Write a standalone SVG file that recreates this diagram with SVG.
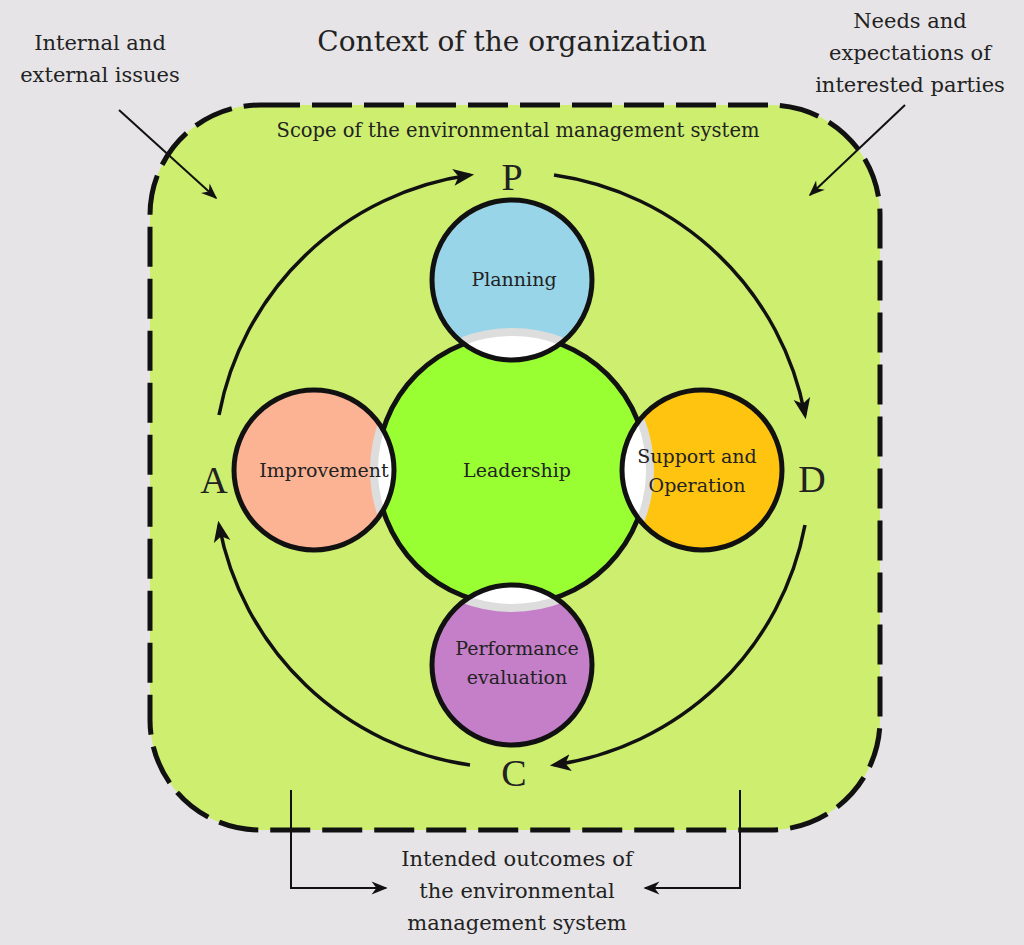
<svg xmlns="http://www.w3.org/2000/svg" width="1024" height="945" viewBox="0 0 1024 945">
<style>
text{font-family:"DejaVu Serif","Liberation Serif",serif;fill:#222;text-anchor:middle}
.lbl{font-size:21px}
.node{font-size:19px}
.big{font-family:"Liberation Serif",serif;font-size:38px}
.ring{fill:none;stroke:#111;stroke-width:5}
.ln{fill:none;stroke:#111;stroke-width:2}
.arc{fill:none;stroke:#111;stroke-width:3.5}
.ov{fill:#fff;stroke:#ddd;stroke-width:8}
</style>
<defs>
<marker id="ah" viewBox="0 0 10 10" refX="8" refY="5" markerWidth="6" markerHeight="6" orient="auto"><path d="M0,1L10,5L0,9L2.5,5z" fill="#111"/></marker>
<marker id="as" viewBox="0 0 10 10" refX="9" refY="5" markerWidth="10" markerHeight="8" orient="auto"><path d="M0,1L10,5L0,9L3,5z" fill="#111"/></marker>
<clipPath id="cP"><circle cx="512" cy="280" r="80"/></clipPath>
<clipPath id="cI"><circle cx="314" cy="470" r="80"/></clipPath>
<clipPath id="cS"><circle cx="702" cy="470" r="80"/></clipPath>
<clipPath id="cE"><circle cx="512" cy="665" r="80"/></clipPath>
</defs>
<rect width="1024" height="945" fill="#e6e4e6"/>
<g id="scope">
<rect x="150" y="105" width="730" height="725" rx="110" fill="#cdee6e" stroke="#111" stroke-width="5" stroke-dasharray="40 12"/>
<text x="518" y="137" style="font-size:19.5px">Scope of the environmental management system</text>
</g>
<text x="512" y="51" style="font-size:28px">Context of the organization</text>
<text class="lbl" x="100" y="50">Internal and</text>
<text class="lbl" x="100" y="82">external issues</text>
<text class="lbl" x="910" y="28">Needs and</text>
<text class="lbl" x="910" y="60">expectations of</text>
<text class="lbl" x="910" y="92">interested parties</text>
<text class="lbl" x="517" y="866">Intended outcomes of</text>
<text class="lbl" x="517" y="898">the environmental</text>
<text class="lbl" x="517" y="930">management system</text>
<g id="leadership"><circle cx="512" cy="470" r="135" fill="#99ff33" stroke="#111" stroke-width="5"/><text class="node" x="517" y="477">Leadership</text></g>
<g id="planning"><circle cx="512" cy="280" r="80" fill="#99d5e8"/><circle cx="512" cy="470" r="138" class="ov" clip-path="url(#cP)"/><circle cx="512" cy="280" r="80" class="ring"/><text class="node" x="514" y="286">Planning</text></g>
<g id="improvement"><circle cx="314" cy="470" r="80" fill="#fbb394"/><circle cx="512" cy="470" r="138" class="ov" clip-path="url(#cI)"/><circle cx="314" cy="470" r="80" class="ring"/><text class="node" x="324" y="477">Improvement</text></g>
<g id="support"><circle cx="702" cy="470" r="80" fill="#fec40f"/><circle cx="512" cy="470" r="138" class="ov" clip-path="url(#cS)"/><circle cx="702" cy="470" r="80" class="ring"/><text class="node" x="697" y="463">Support and</text><text class="node" x="697" y="492">Operation</text></g>
<g id="performance"><circle cx="512" cy="665" r="80" fill="#c47fc8"/><circle cx="512" cy="470" r="138" class="ov" clip-path="url(#cE)"/><circle cx="512" cy="665" r="80" class="ring"/><text class="node" x="517" y="655">Performance</text><text class="node" x="517" y="684">evaluation</text></g>
<g id="pdca">
<text class="big" x="512" y="190">P</text>
<text class="big" x="812" y="492">D</text>
<text class="big" x="514" y="786">C</text>
<text class="big" x="214" y="493">A</text>
</g>
<g id="connectors">
<path class="arc" d="M219,415A298,298 0 0 1 470,175" marker-end="url(#ah)"/>
<path class="arc" d="M554,175A298,298 0 0 1 805,415" marker-end="url(#ah)"/>
<path class="arc" d="M805,525A298,298 0 0 1 554,765" marker-end="url(#ah)"/>
<path class="arc" d="M470,765A298,298 0 0 1 219,525" marker-end="url(#ah)"/>
<path class="ln" d="M119,110L216,198" marker-end="url(#as)"/>
<path class="ln" d="M905,105L810,195" marker-end="url(#as)"/>
<path class="ln" d="M291,790V888H386" marker-end="url(#as)"/>
<path class="ln" d="M740,790V888H645" marker-end="url(#as)"/>
</g>
</svg>
